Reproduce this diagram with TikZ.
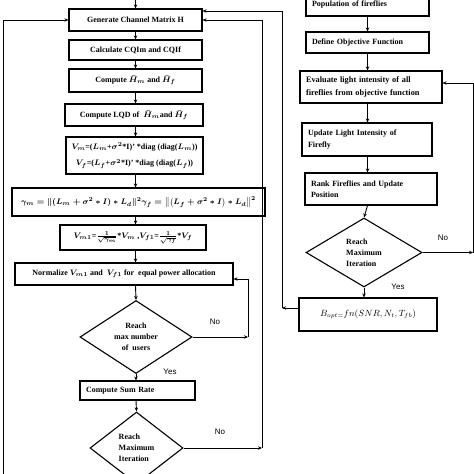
\documentclass[tikz,border=0pt]{standalone}
\usepackage{fontspec}
\setmainfont{Liberation Serif}
\newfontfamily\labfont{Liberation Sans}
\usepackage{amsmath}
\usetikzlibrary{shapes.geometric,arrows.meta}
\begin{document}
\begin{tikzpicture}[x=1pt,y=-1pt,
  box/.style={draw, line width=1.1pt, inner sep=2pt, align=center,
    font=\bfseries\boldmath\fontsize{8}{9.5}\selectfont},
  lbox/.style={box, align=left, inner xsep=6pt},
  dia/.style={draw, diamond, line width=1.1pt, inner sep=0pt, align=left,
    font=\bfseries\fontsize{8}{11}\selectfont},
  arr/.style={-{Stealth[length=4pt,width=3.5pt]}, line width=0.9pt},
  ln/.style={line width=0.9pt},
  lab/.style={font=\labfont\fontsize{8}{9.5}\selectfont}]
\useasboundingbox (0,0) rectangle (474,474);
\clip (0,0) rectangle (474,474);

% ---------- left column ----------
\node[box, minimum width=133pt, minimum height=22pt] (gen) at (135.5,20) {Generate Channel Matrix H};
\node[box, minimum width=133pt, minimum height=20pt] (cqi) at (135.5,50) {Calculate CQIm and CQIf};
\node[box, minimum width=133pt, minimum height=23pt] (hbar) at (135.5,80.5) {Compute $\bar{H}_m$ and $\bar{H}_f$};
\node[box, minimum width=138pt, minimum height=22pt] (lqd) at (134,115) {Compute LQD of \ $\bar{H}_m$and $\bar{H}_f$};
\node[box, minimum width=137pt, minimum height=37pt] (vm) at (134.5,155.5)
  {$V_m$=($L_m$+$\sigma^2$*I)' *diag (diag($L_m$))\\[7pt]$V_f$=($L_f$+$\sigma^2$*I)' *diag (diag($L_f$))};
\node[box, minimum width=253pt, minimum height=28pt, font=\bfseries\boldmath\fontsize{8.5}{10}\selectfont] (gam) at (138.5,202)
  {$\gamma_m=\|(L_m+\sigma^2*I)*L_d\|^2\gamma_f=\left\|\bigl(L_f+\sigma^2*I\bigr)*L_d\right\|^2$};
\node[box, minimum width=146pt, minimum height=25pt] (vm1) at (133,237.5)
  {$V_{m1}$=$\frac{1}{\sqrt{\gamma_m}}$*$V_m$ ,$V_{f1}$=$\frac{1}{\sqrt{\gamma_f}}$*$V_f$};
\node[box, minimum width=218pt, minimum height=22pt] (norm) at (124,274)
  {Normalize $V_{m1}$ and \ $V_{f1}$ for \ equal power allocation};
\node[dia, minimum width=112pt, minimum height=73pt, align=center] (d1) at (136,337) {Reach\\max number\\of \ users};
\node[lbox, text width=103pt, minimum height=19pt] (sum) at (137.5,390.5) {Compute Sum Rate};
\node[dia, minimum width=93pt, minimum height=72pt] (d2) at (136.5,448) {Reach\\Maximum\\Iteration};

% ---------- right column ----------
\node[lbox, text width=111pt, minimum height=22pt] (pop) at (367.5,5) {Population of fireflies};
\node[lbox, text width=111pt, minimum height=21pt] (def) at (367.5,42.5) {Define Objective Function};
\node[lbox, text width=130pt, minimum height=32pt, font=\bfseries\fontsize{8.3}{12.5}\selectfont] (eval) at (371,87)
  {Evaluate light intensity of all\\fireflies from objective function};
\node[lbox, text width=118pt, minimum height=33pt, font=\bfseries\fontsize{8}{11.5}\selectfont] (upd) at (367,139.5) {Update Light Intensity of\\Firefly};
\node[lbox, text width=120pt, minimum height=32pt, font=\bfseries\fontsize{8}{10.5}\selectfont] (rank) at (371,189) {Rank Fireflies and Update\\Position};
\node[dia, minimum width=116pt, minimum height=69pt] (d3) at (364,252.5) {Reach\\Maximum\\Iteration};
\node[box, minimum width=138pt, minimum height=33pt, font=\fontsize{9}{10}\selectfont] (bopt) at (368,314.5) {$B_{opt=}fn(SNR,N_t,T_{fb})$};

% ---------- coordinates ----------
\coordinate (top) at (135.5,0);
\coordinate (lbot) at (3,474);
\coordinate (lc) at (3,20);
\coordinate (l1) at (248,337);
\coordinate (l1t) at (248,279);
\coordinate (r1) at (262,448);
\coordinate (r1t) at (262,20);
\coordinate (b1) at (282,308);
\coordinate (b1t) at (282,11);
\coordinate (f1) at (473,252.5);
\coordinate (f1t) at (473,83);

% ---------- left connectors ----------
\draw[arr] (top) -- (gen.north);
\draw[arr] (gen.south) -- (gen.south |- cqi.north);
\draw[arr] (cqi.south) -- (cqi.south |- hbar.north);
\draw[arr] (hbar.south) -- (hbar.south |- lqd.north);
\draw[arr] (hbar.south |- lqd.south) -- (hbar.south |- vm.north);
\draw[arr] (hbar.south |- vm.south) -- (hbar.south |- gam.north);
\draw[arr] (hbar.south |- gam.south) -- (hbar.south |- vm1.north);
\draw[arr] (hbar.south |- vm1.south) -- (hbar.south |- norm.north);
\draw[arr] (hbar.south |- norm.south) -- (d1.north);
\draw[arr] (d1.south) -- (d1.south |- sum.north);
\draw[arr] (d1.south |- sum.south) -- (d2.north);
\draw[arr] (d1.east) -- (l1);
\draw[arr] (l1) -- (l1t) -- (norm.east |- l1t);
\draw[arr] (d2.east) -- (r1);
\draw[arr] (r1) -- (r1t) -- (gen.east);
\draw[arr] (lbot) -- (lc) -- (gen.west);
\draw[arr] (bopt.west |- b1) -- (b1);
\draw[arr] (b1) -- (b1t) -- (gen.east |- b1t);

% ---------- right connectors ----------
\draw[arr] (pop.south) -- (pop.south |- def.north);
\draw[arr] (pop.south |- def.south) -- (pop.south |- eval.north);
\draw[arr] (pop.south |- eval.south) -- (pop.south |- upd.north);
\draw[arr] (pop.south |- upd.south) -- (pop.south |- rank.north);
\draw[arr] (pop.south |- rank.south) -- (d3.north);
\draw[arr] (d3.south) -- (d3.south |- bopt.north);
\draw[arr] (d3.east) -- (f1);
\draw[arr] (f1) -- (f1t) -- (eval.east |- f1t);

% ---------- labels ----------
\node[lab] (no1) at (215,322) {No};
\node[lab] (yes1) at (170,372) {Yes};
\node[lab] (no2) at (220,432) {No};
\node[lab] (no3) at (443,238) {No};
\node[lab] (yes3) at (398,287) {Yes};
\end{tikzpicture}
\end{document}
